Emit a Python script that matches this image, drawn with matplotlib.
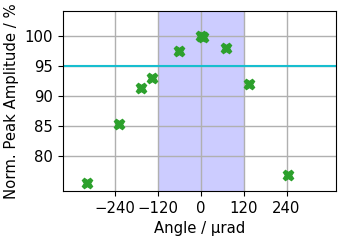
import matplotlib
matplotlib.use('Agg')
import matplotlib.pyplot as plt

# measured angles (µrad) and normalised peak amplitudes (%)
angles = [-320, -229, -167, -137, -61, 0, 6, 71, 134, 245]
amplitudes = [75.5, 85.3, 91.3, 93.0, 97.4, 100.0, 99.7, 98.0, 91.9, 76.7]

x_ticks = [-240, -120, 0, 120, 240]
y_ticks = [80, 85, 90, 95, 100]
band = (-120, 120)
threshold = 95

fig = plt.figure(figsize=(3.42, 2.4), dpi=100)
ax = fig.add_axes([0.184, 0.204, 0.798, 0.75])

ax.axvspan(*band, color='blue', alpha=0.2, lw=0, zorder=1)
ax.axhline(threshold, color='#17becf', lw=1.5, zorder=2)
ax.plot(angles, amplitudes, 'X', color='#2ca02c', markersize=7.5, zorder=3)

ax.set_xticks(x_ticks)
ax.set_yticks(y_ticks)
ax.set_xlim(-386, 378)
ax.set_ylim(74.1, 104.1)
ax.grid(True, color='#b0b0b0', lw=1, zorder=1.5)

fs = 10.7
ax.set_xlabel('Angle / µrad', fontsize=fs)
ax.set_ylabel('Norm. Peak Amplitude / %', fontsize=fs)
ax.tick_params(labelsize=fs)

fig.savefig('out.png', dpi=100)
